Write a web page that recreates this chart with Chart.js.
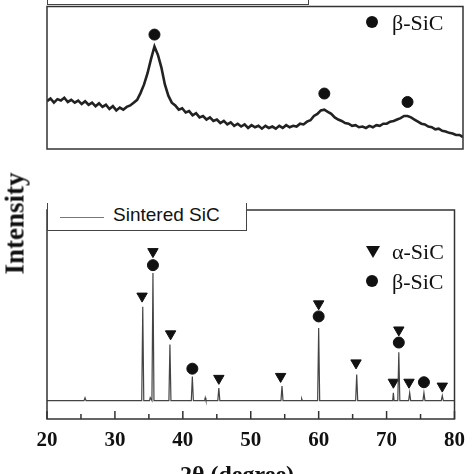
<!DOCTYPE html>
<html><head><meta charset="utf-8">
<script src="https://cdn.jsdelivr.net/npm/chart.js@4.4.0/dist/chart.umd.min.js"></script>
<style>
body{margin:0;width:474px;height:474px;overflow:hidden;background:#fff;position:relative;font-family:"Liberation Serif",serif}
.w{position:absolute;left:0;width:474px}
.t{position:absolute;white-space:nowrap;color:#111}
</style></head><body>
<div class="w" style="top:0;height:204px"><canvas id="c1"></canvas></div>
<div class="w" style="top:203px;height:271px"><canvas id="c2"></canvas></div>
<div class="t" style="left:47px;top:-2px;width:260px;height:6px;border:1.5px solid #444;border-top:none;background:#fff"></div>
<div class="t" style="left:47px;top:203px;width:198px;height:27px;border:1.5px solid #444;border-top:none;background:#fff"></div>
<div class="t" style="left:60px;top:217px;width:44px;height:1px;background:#777"></div>
<div class="t" style="left:113px;top:204px;font-family:'Liberation Sans',sans-serif;font-size:19px">Sintered SiC</div>
<div class="t" style="left:392px;top:10px;font-size:22px">β-SiC</div>
<div class="t" style="left:392px;top:239px;font-size:22px">α-SiC</div>
<div class="t" style="left:392px;top:269px;font-size:22px">β-SiC</div>
<div class="t" style="left:366px;top:16px;width:12px;height:12px;border-radius:50%;background:#111"></div>
<div class="t" style="left:366px;top:275px;width:12px;height:12px;border-radius:50%;background:#111"></div>
<div class="t" style="left:366px;top:246px;width:0;height:0;border-left:7px solid transparent;border-right:7px solid transparent;border-top:12px solid #111"></div>
<div class="t" style="left:-45px;top:208px;transform:rotate(-90deg);font-weight:bold;font-size:27px;width:120px;text-align:center">Intensity</div>
<div class="t" style="left:180px;top:461px;font-weight:bold;font-size:24px">2θ (degree)</div>
<script>
const topX=[20,20.5,21,21.5,22,22.5,23,23.5,24,24.5,25,25.5,26,26.5,27,27.5,28,28.5,29,29.5,30,30.5,31,31.5,32,32.5,33,33.5,34,34.5,35,35.5,36,36.5,37,37.5,38,38.5,39,39.5,40,40.5,41,41.5,42,42.5,43,43.5,44,44.5,45,45.5,46,46.5,47,47.5,48,48.5,49,49.5,50,50.5,51,51.5,52,52.5,53,53.5,54,54.5,55,55.5,56,56.5,57,57.5,58,58.5,59,59.5,60,60.5,61,61.5,62,62.5,63,63.5,64,64.5,65,65.5,66,66.5,67,67.5,68,68.5,69,69.5,70,70.5,71,71.5,72,72.5,73,73.5,74,74.5,75,75.5,76,76.5,77,77.5,78,78.5,79,79.5,80];
const topY=[68,72,66,71,69,73,67,70,66,69,64,68,63,66,61,65,60,63,57,61,55,59,56,60,62,66,70,80,92,108,128,146,134,116,92,76,66,62,56,58,52,54,48,51,45,47,42,45,40,42,37,40,35,38,33,36,32,35,30,34,31,33,29,33,30,32,29,33,30,34,31,33,32,36,35,39,41,47,50,55,56,53,50,45,42,40,37,36,33,34,31,32,30,33,31,34,33,36,36,39,40,42,44,47,47,45,42,39,36,35,32,31,28,29,26,25,23,22,20,20,17];
const botX=[20,25.45,25.6,25.75,33.95,34.1,34.25,35.1,35.2,35.45,35.6,35.75,37.95,38.1,38.25,41.25,41.4,41.55,43.2,43.3,43.4,45.15,45.3,45.45,54.45,54.6,54.75,57.4,57.5,57.6,59.85,60.0,60.15,65.45,65.6,65.75,70.9,71.0,71.1,71.65,71.8,71.95,73.25,73.4,73.55,75.35,75.5,75.65,78.05,78.2,78.35,80];
const botY=[19,19,22,19,19,116,19,19,22,19,151,19,19,77,19,19,44,19,19,22,19,19,32,19,19,34,19,19,21,19,19,94,19,19,46,19,19,27,19,19,69,19,19,27,19,19,27,19,19,24,19,19];
const topBetaX=[35.5,60,72], topBetaY=[163,79,67];
const alphaX=[34.0,35.6,38.2,45.3,54.4,60.0,65.5,71.0,71.8,73.3,78.2];
const alphaY=[127,173,88,42,44,119,58,38,92,38,34];
const betaX=[35.6,41.4,60.0,71.8,75.5];
const betaY=[159,52,106,79,38];
const xTicks=[20,30,40,50,60,70,80];
const pts=(xs,ys)=>xs.map((x,i)=>({x,y:ys[i]}));
const frame={id:'frame',afterDraw(c){const a=c.chartArea,g=c.ctx;g.save();g.strokeStyle='#333';g.lineWidth=1.5;g.strokeRect(a.left,a.top,a.right-a.left,a.bottom-a.top);
 if(c.options.plugins.ticksIn){const s=c.scales.x;for(let v=20;v<=80;v+=5){const p=s.getPixelForValue(v);const L=v%10===0?8:5;g.beginPath();g.moveTo(p,a.bottom);g.lineTo(p,a.bottom-L);g.stroke();}}g.restore();}};
function mk(id,line,markers,ymax,showX,lw,col){
 const ds=[{type:'line',data:line,borderColor:col,borderWidth:lw,pointRadius:0,tension:0}];
 markers.forEach(m=>ds.push({type:'scatter',data:m.d,pointStyle:m.s,rotation:m.r||0,pointRadius:m.s==='triangle'?6:5.5,backgroundColor:'#111',borderColor:'#111'}));
 new Chart(document.getElementById(id),{data:{datasets:ds},plugins:[frame],options:{responsive:true,maintainAspectRatio:false,animation:false,
 layout:{padding:{left:47,right:11,top:showX?0:1,bottom:0}},
 plugins:{legend:{display:false},tooltip:{enabled:false},ticksIn:showX},
 scales:{x:{type:'linear',min:20,max:80,display:showX,border:{display:false},grid:{display:false,drawTicks:false},afterFit:s=>{s.height=55},
  afterBuildTicks:s=>{s.ticks=xTicks.map(v=>({value:v}))},
  ticks:{padding:9,color:'#111',font:{family:'Liberation Serif',size:21,weight:'bold'},maxRotation:0,autoSkip:false}},
 y:{min:0,max:ymax,display:false}}}});
}
mk('c1',pts(topX,topY),[{d:pts(topBetaX,topBetaY),s:'circle'}],203,false,2.6,'#222');
mk('c2',pts(botX,botY),[{d:pts(alphaX,alphaY),s:'triangle',r:180},{d:pts(betaX,betaY),s:'circle'}],216,true,1.2,'#444');
</script></body></html>
